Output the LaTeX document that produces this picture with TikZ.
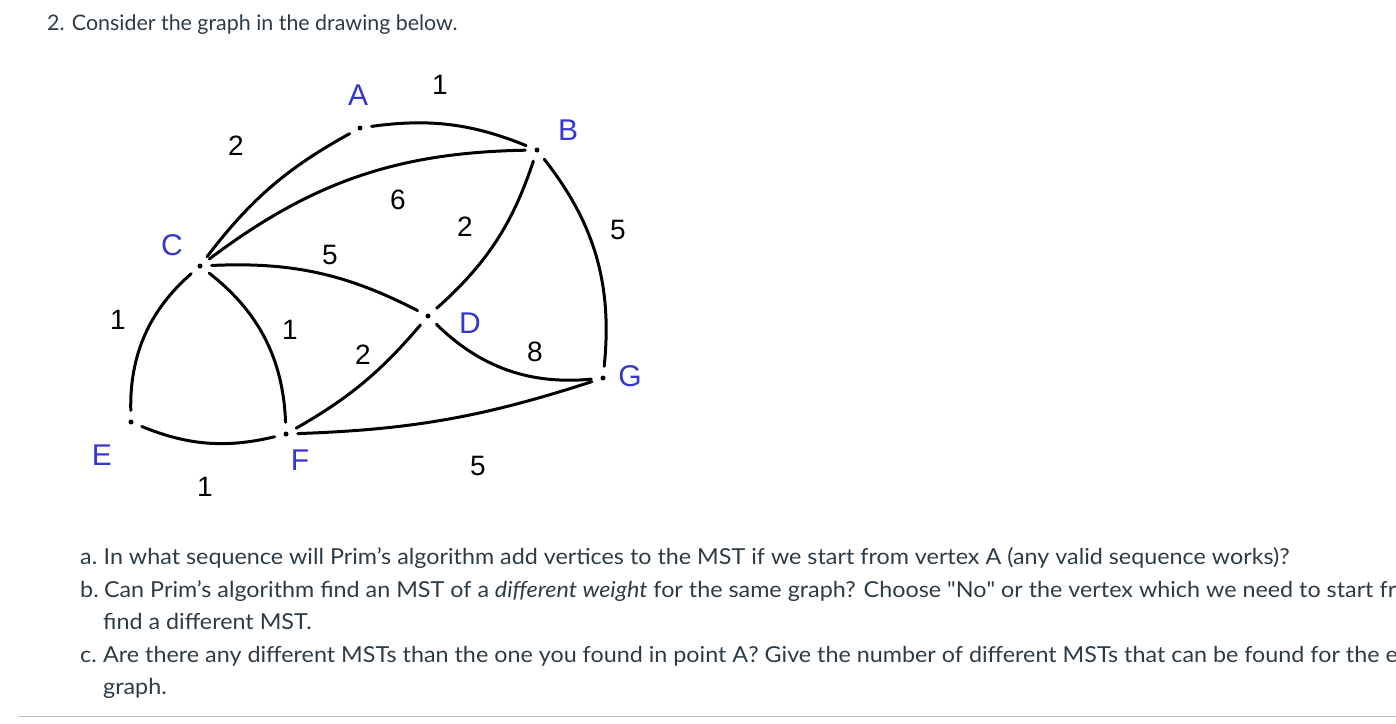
\documentclass[tikz,border=0pt]{standalone}
\usepackage{fontspec}
\setmainfont{Lato}
\newfontfamily\handfont{Liberation Sans}
\definecolor{txt}{HTML}{2D3B45}
\definecolor{hblue}{HTML}{3535D0}
\newcommand{\qline}[1]{\scalebox{1.06}[1]{#1}}
\begin{document}
\begin{tikzpicture}[x=1pt,y=-1pt,
  dotn/.style={circle,fill=black,inner sep=0pt,minimum size=5pt},
  edge/.style={line width=3pt,line cap=round,shorten >=9pt,shorten <=9pt},
  vlab/.style={text=hblue,font=\handfont\fontsize{30}{30}\selectfont},
  wlab/.style={text=black,font=\handfont\fontsize{28}{28}\selectfont},
  para/.style={anchor=base west,text=txt,font=\fontsize{22}{24}\selectfont,inner sep=0pt}]
\useasboundingbox (0,0) rectangle (1396,723);
\node[para,font=\fontsize{21.4}{24}\selectfont] (t0) at (47,30) {2. Consider the graph in the drawing below.};
\node[dotn] (A) at (360,128) {};
\node[dotn] (B) at (537,150) {};
\node[dotn] (C) at (200,266) {};
\node[dotn] (D) at (428,316) {};
\node[dotn] (E) at (131,422) {};
\node[dotn] (F) at (286,434) {};
\node[dotn] (G) at (603,378) {};
\draw[edge] (A) to[bend left=15] (B);
\draw[edge] (C) to[bend left=12] (A);
\draw[edge] (C) to[bend left=18] (B);
\draw[edge] (C) to[bend left=15] (D);
\draw[edge] (B) to[bend left=15] (D);
\draw[edge] (B) to[bend left=22] (G);
\draw[edge] (C) to[bend right=25] (E);
\draw[edge] (C) to[bend left=25] (F);
\draw[edge] (D) to[bend left=10] (F);
\draw[edge] (D) to[bend right=25] (G);
\draw[edge] (E) to[bend right=18] (F);
\draw[edge] (F) to[bend right=8] (G);
\node[vlab] (lA) at (358,95) {A};
\node[vlab] (lB) at (568,130) {B};
\node[vlab] (lC) at (172,245) {C};
\node[vlab] (lD) at (470,323) {D};
\node[vlab] (lE) at (102,455) {E};
\node[vlab] (lF) at (300,460) {F};
\node[vlab] (lG) at (630,376) {G};
\node[wlab] (w1) at (440,85) {1};
\node[wlab] (w2) at (236,146) {2};
\node[wlab] (w3) at (398,200) {6};
\node[wlab] (w4) at (465,227) {2};
\node[wlab] (w5) at (618,230) {5};
\node[wlab] (w6) at (330,255) {5};
\node[wlab] (w7) at (118,320) {1};
\node[wlab] (w8) at (290,330) {1};
\node[wlab] (w9) at (363,355) {2};
\node[wlab] (w10) at (535,352) {8};
\node[wlab] (w11) at (205,487) {1};
\node[wlab] (w12) at (478,466) {5};
\node[para] (qa) at (80,564) {\qline{a.\hspace{6pt}In what sequence will Prim's algorithm add vertices to the MST if we start from vertex A (any valid sequence works)?}};
\node[para] (qb) at (80,597) {\qline{b.\hspace{5pt}Can Prim's algorithm find an MST of a \textit{different weight} for the same graph? Choose \textquotedbl No\textquotedbl{} or the vertex which we need to start from to}};
\node[para] (qb2) at (103,629) {\qline{find a different MST.}};
\node[para] (qc) at (80,662) {\qline{c.\hspace{6pt}Are there any different MSTs than the one you found in point A? Give the number of different MSTs that can be found for the example}};
\node[para] (qc2) at (103,694) {\qline{graph.}};
\draw[gray!50,line width=1pt] (18,716) -- (1396,716);
\end{tikzpicture}
\end{document}
